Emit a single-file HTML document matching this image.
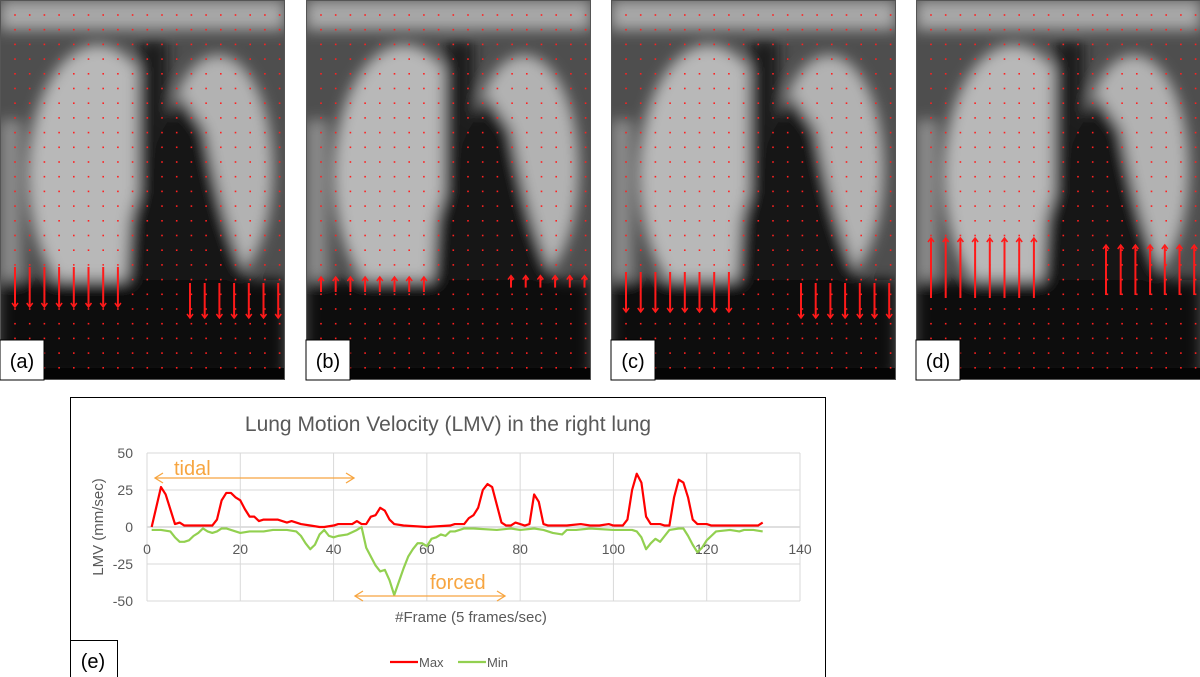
<!DOCTYPE html>
<html><head><meta charset="utf-8">
<style>
html,body{margin:0;padding:0;background:#fff;width:1200px;height:677px;overflow:hidden;font-family:"Liberation Sans",sans-serif;}
svg{position:absolute;left:0;top:0;}
</style></head>
<body>
<svg id="fig" width="1200" height="677" viewBox="0 0 1200 677">
<defs>
<filter id="blur" x="-20%" y="-20%" width="140%" height="140%"><feGaussianBlur stdDeviation="7"/></filter>
<clipPath id="pclip"><rect x="0" y="0" width="285" height="380"/></clipPath>
</defs>
<g id="panels"></g>
<g id="chart"></g>
</svg>
<script>
// ===== chart data =====
const maxFrames=[1,3,4,5,6,7,8,10,12,14,15,16,17,18,19,20,21,22,23,24,25,28,30,31,33,35,37,38,40,41,44,45,46,47,48,49,50,51,52,53,55,60,65,66,68,69,70,71,72,73,74,75,76,77,78,79,80,81,82,83,84,85,86,90,93,95,97,99,100,102,103,104,105,106,107,108,110,111,112,113,114,115,116,117,118,120,121,123,125,130,131,132];
const maxValues=[0,27,22,12,2,3,1,1,1,1,5,18,23,23,20,18,12,7,7,4,5,5,3,4,2,1,0,0,1,2,2,4,2,2,7,8,13,11,5,2,1,0,1,2,2,6,8,13,25,29,27,15,3,1,1,3,2,1,2,22,17,2,1,1,2,1,1,2,1,1,5,25,36,30,7,2,2,1,1,20,32,30,20,5,2,2,1,1,1,1,1,3];
const minFrames=[1,3,5,6,7,8,9,10,11,12,13,14,15,16,17,18,19,20,22,25,27,30,32,33,34,35,36,37,38,39,40,41,43,45,46,47,48,49,50,51,52,53,54,55,56,57,58,59,60,61,62,63,64,65,66,67,68,70,75,78,80,83,85,87,89,90,92,95,100,104,105,106,107,108,109,110,111,112,114,115,116,117,118,119,120,121,122,125,127,128,130,132];
const minValues=[-2,-2,-3,-7,-10,-10,-9,-6,-4,-1,-3,-4,-3,-1,-1,-2,-3,-4,-3,-3,-2,-2,-3,-6,-11,-15,-12,-5,-2,-6,-7,-6,-5,-2,0,-14,-20,-26,-30,-29,-36,-46,-37,-28,-20,-15,-11,-11,-13,-8,-7,-5,-6,-3,-3,-2,-1,-1,-2,-1,-2,-1,-2,-4,-5,-2,-2,-1,-2,-2,-3,-7,-15,-11,-8,-10,-6,-2,-1,-1,-6,-12,-17,-14,-9,-6,-3,-2,-3,-2,-2,-3];
const xTicks=[0,20,40,60,80,100,120,140];
const yTicks=[50,25,0,-25,-50];

const NS="http://www.w3.org/2000/svg";
function mk(tag,attrs,parent){const e=document.createElementNS(NS,tag);for(const k in attrs)e.setAttribute(k,attrs[k]);if(parent)parent.appendChild(e);return e;}

// ===== X-ray panels =====
const panels=document.getElementById('panels');
const panelX=[0,306,611,916];
const labels=['(a)','(b)','(c)','(d)'];
const arrowSets=[
 [[15,120,40,275],[190,285,35,290]],
 [[15,120,-15,295],[205,285,-12,290]],
 [[15,120,40,280],[190,285,35,290]],
 [[15,130,-60,310],[190,285,-50,305]]
];
panelX.forEach((px,i)=>{
  const g=mk('g',{transform:`translate(${px},0)`},panels);
  
  
  const c=mk('g',{'clip-path':'url(#pclip)'},g);
  mk('rect',{x:0,y:0,width:285,height:380,fill:'#4e4e4e'},c);
  const b=mk('g',{filter:'url(#blur)'},c);
  mk('rect',{x:0,y:0,width:285,height:30,fill:'#a8a8a8'},b);
  mk('rect',{x:0,y:120,width:22,height:200,fill:'#8a8a8a'},b);
  mk('ellipse',{cx:98,cy:175,rx:70,ry:130,fill:'#b8b8b8'},b);
  mk('ellipse',{cx:218,cy:170,rx:55,ry:115,fill:'#b2b2b2'},b);
  mk('rect',{x:138,y:40,width:30,height:250,fill:'#1e1e1e'},b);
  mk('path',{d:'M130 220 Q150 150 180 95 L205 130 Q225 240 255 290 L125 300 Z',fill:'#141414'},b);
  mk('rect',{x:0,y:280,width:285,height:100,fill:'#101010'},b);
  mk('rect',{x:0,y:368,width:285,height:12,fill:'#050505'},c);
  for(let y=15;y<372;y+=14.7)for(let x=15;x<285;x+=14.7){mk('rect',{x:x-0.8,y:y-0.8,width:1.6,height:1.6,fill:'#ff2020'},c);}
  arrowSets[i].forEach(s=>{
    for(let x=s[0];x<=s[1];x+=14.7){
      const L=s[2];
      const y1=s[3]-Math.abs(L)*0.2, y2=y1+L;
      mk('line',{x1:x,y1:y1,x2:x,y2:y2,stroke:'#ff1a1a','stroke-width':2},c);
      const d=L>0?-4:4;
      mk('path',{d:`M${x-3} ${y2+d} L${x} ${y2} L${x+3} ${y2+d}`,stroke:'#ff1a1a','stroke-width':1.5,fill:'none'},c);
    }
  });
  mk('rect',{x:0.5,y:0.5,width:284,height:379,fill:'none',stroke:'#555'},g);
  mk('rect',{x:0,y:340,width:44,height:40,fill:'#fff',stroke:'#000'},g);
  const t=mk('text',{x:22,y:368,'text-anchor':'middle','font-size':'20','font-family':'Liberation Sans, sans-serif',fill:'#000'},g);
  t.textContent=labels[i];
  
  
});

// ===== chart =====
const ch=document.getElementById('chart');
const X0=147,X1=800,Y0=527,PXU=(X1-X0)/140,PYU=74/50;
const sx=v=>X0+v*PXU, sy=v=>Y0-v*PYU;
mk('rect',{x:70.5,y:397.5,width:755,height:285,fill:'#fff',stroke:'#000','stroke-width':1},ch);
const title=mk('text',{x:448,y:431,'text-anchor':'middle','font-size':'21',fill:'#595959'},ch);
title.textContent='Lung Motion Velocity (LMV) in the right lung';

yTicks.forEach(v=>{
  const l=mk('line',{x1:X0,x2:X1,y1:sy(v),y2:sy(v),stroke:v===0?'#bfbfbf':'#d9d9d9','stroke-width':1},ch);
  
  const t=mk('text',{x:X0-14,y:sy(v)+5,'text-anchor':'end','font-size':'14',fill:'#595959'},ch);
  t.textContent=v;
});
xTicks.forEach(v=>{
  const l=mk('line',{x1:sx(v),x2:sx(v),y1:sy(50),y2:sy(-50),stroke:'#d9d9d9','stroke-width':1},ch);
  
  const t=mk('text',{x:sx(v),y:sy(0)+27,'text-anchor':'middle','font-size':'14',fill:'#595959'},ch);
  t.textContent=v;
});
const yt=mk('text',{x:0,y:0,transform:`translate(103,${sy(0)}) rotate(-90)`,'text-anchor':'middle','font-size':'15',fill:'#595959'},ch);
yt.textContent='LMV (mm/sec)';
const xt=mk('text',{x:471,y:622,'text-anchor':'middle','font-size':'15',fill:'#595959'},ch);
xt.textContent='#Frame (5 frames/sec)';
function series(fr,vals,col,name){
  const p=mk('polyline',{points:fr.map((f,i)=>sx(f)+','+sy(vals[i])).join(' '),fill:'none',stroke:col,'stroke-width':2.2,'stroke-linejoin':'round'},ch);
  
}
series(minFrames,minValues,'#92d050','min-series');
series(maxFrames,maxValues,'#ff0000','max-series');
function harrow(x1,x2,y,name){
  const g=mk('g',{stroke:'#f7a540','stroke-width':1.3,fill:'none'},ch);
  
  mk('line',{x1:x1,x2:x2,y1:y,y2:y},g);
  mk('path',{d:`M${x1+8} ${y-5} L${x1} ${y} L${x1+8} ${y+5}`},g);
  mk('path',{d:`M${x2-8} ${y-5} L${x2} ${y} L${x2-8} ${y+5}`},g);
}
harrow(155,354,478,'tidal-arrow');
harrow(355,505,596,'forced-arrow');
const t1=mk('text',{x:174,y:475,'font-size':'20',fill:'#f7a540'},ch);t1.textContent='tidal';

const t2=mk('text',{x:430,y:589,'font-size':'20',fill:'#f7a540'},ch);t2.textContent='forced';

const lg=mk('g',{},ch);
mk('line',{x1:390,x2:418,y1:662,y2:662,stroke:'#ff0000','stroke-width':2.2},lg);
const lt1=mk('text',{x:419,y:667,'font-size':'13',fill:'#595959'},lg);lt1.textContent='Max';
mk('line',{x1:458,x2:486,y1:662,y2:662,stroke:'#92d050','stroke-width':2.2},lg);
const lt2=mk('text',{x:487,y:667,'font-size':'13',fill:'#595959'},lg);lt2.textContent='Min';
mk('rect',{x:70.5,y:640.5,width:47,height:40,fill:'#fff',stroke:'#000'},ch);
const el=mk('text',{x:93,y:668,'text-anchor':'middle','font-size':'20',fill:'#000'},ch);el.textContent='(e)';

</script>
</body></html>
